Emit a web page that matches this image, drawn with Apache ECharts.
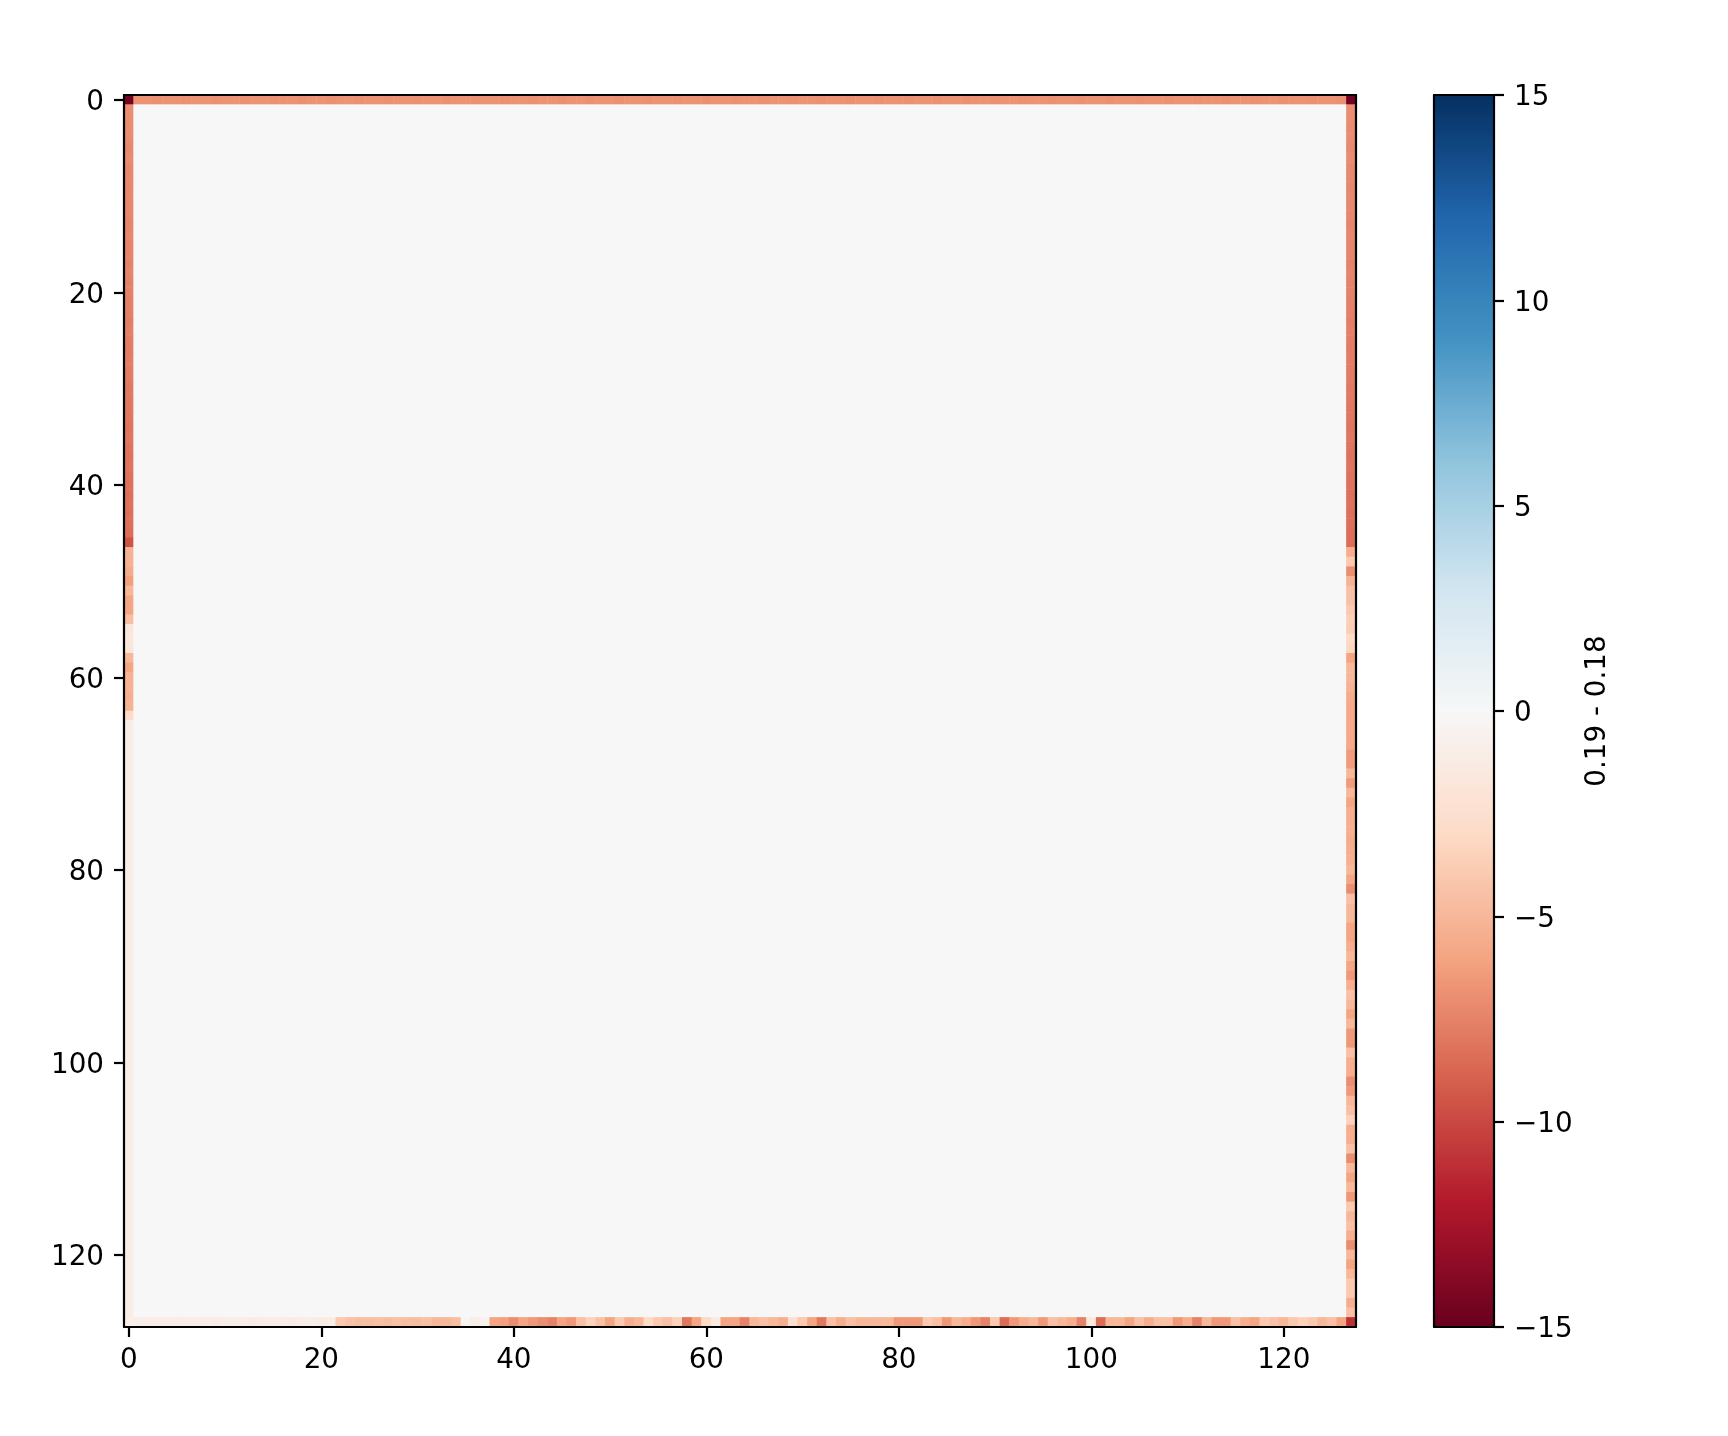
<!DOCTYPE html>
<html>
<head>
<meta charset="utf-8">
<script src="https://cdn.jsdelivr.net/npm/echarts@6/dist/echarts.min.js"></script>
<style>
html, body { margin: 0; padding: 0; background: #ffffff; }
#chart { width: 1728px; height: 1436px; }
</style>
</head>
<body>
<div id="chart"></div>
<script>
// ---------------- data ----------------
const gridSize = 128;
const xTickValues = [0, 20, 40, 60, 80, 100, 120];
const yTickValues = [0, 20, 40, 60, 80, 100, 120];
const colorbarTicks = [-15, -10, -5, 0, 5, 10, 15];
const colorbarLabel = '0.19 - 0.18';
const valueMin = -15;
const valueMax = 15;
const interiorValue = 0;

// row 0, columns 0..127
const topRow = [
  -14.5,
  -6.8, -6.8, -6.9, -6.8, -6.8, -6.9, -6.8, -6.8, -6.9, -6.8,
  -6.8, -6.9, -6.8, -6.8, -6.9, -6.8, -6.8, -6.9, -6.8, -6.8,
  -6.9, -6.8, -6.8, -6.9, -6.8, -6.8, -6.9, -6.8, -6.8, -6.9,
  -6.8, -6.8, -6.9, -6.8, -6.8, -6.9, -6.8, -6.8, -6.9, -6.8,
  -6.8, -6.9, -6.8, -6.8, -6.9, -6.8, -6.8, -6.9, -6.8, -6.8,
  -6.9, -6.8, -6.8, -6.9, -6.8, -6.8, -6.9, -6.8, -6.8, -6.9,
  -6.8, -6.8, -6.9, -6.8, -6.8, -6.9, -6.8, -6.8, -6.9, -6.8,
  -6.8, -6.9, -6.8, -6.8, -6.9, -6.8, -6.8, -6.9, -6.8, -6.8,
  -6.9, -6.8, -6.8, -6.9, -6.8, -6.8, -6.9, -6.8, -6.8, -6.9,
  -6.8, -6.8, -6.9, -6.8, -6.8, -6.9, -6.8, -6.8, -6.9, -6.8,
  -6.8, -6.9, -6.8, -6.8, -6.9, -6.8, -6.8, -6.9, -6.8, -6.8,
  -6.9, -6.8, -6.8, -6.9, -6.8, -6.8, -6.9, -6.8, -6.8, -6.9,
  -6.8, -6.8, -6.9, -6.8, -6.8, -6.9,
  -14.5
];

// row 127, columns 0..127
const bottomRow = [
  -0.9, -1.0, -1.0, -1.1, -1.0, -1.1, -1.1, -1.0, -1.1, -1.2,
  -1.1, -1.0, -1.1, -1.2, -1.1, -1.0, -1.1, -1.2, -1.1, -1.0,
  -1.2, -1.1,
  -4.0, -4.4, -4.6, -4.6, -4.5, -4.7, -4.5, -4.6, -4.7, -4.5,
  -5.0, -5.0, -4.6,
  -0.3, -1.0, -0.6,
  -6.0, -6.2, -7.0,
  -6.0, -6.5, -7.0, -7.5, -6.0, -6.5, -4.5, -3.5, -4.5, -6.0,
  -4.0, -5.5, -5.0, -3.0, -4.0, -4.5, -3.5, -8.0, -6.0, -3.0,
  -1.5, -6.0, -6.0, -7.5, -5.0, -4.5, -5.0, -5.5, -2.5, -4.0,
  -6.0, -8.0, -4.5, -5.5, -4.5, -5.0, -5.0, -5.0, -5.0, -6.5,
  -6.5, -6.5, -4.0,
  -4.5, -6.5, -5.0, -5.5, -6.5, -7.5, -4.0, -8.5, -6.5, -5.5,
  -5.0, -6.5, -4.5, -5.0, -5.5, -7.5, -1.5, -8.5, -5.0, -5.0,
  -6.0, -4.5, -5.5, -4.5, -4.5, -6.5, -5.5, -7.5, -5.0, -6.5,
  -6.5, -4.5, -5.5, -6.0, -4.0, -4.5, -5.0, -4.0, -3.5, -4.0,
  -5.0, -4.5, -6.0, -11.0
];

// column 0, rows 1..126
const leftCol = [
  -7.0, -7.0, -7.1, -7.1, -7.2, -7.1, -7.2, -7.2, -7.3, -7.2,
  -7.3, -7.3, -7.4, -7.3, -7.4, -7.4, -7.5, -7.4, -7.5, -7.5,
  -7.6, -7.6, -7.7, -7.6, -7.7, -7.8, -7.7, -7.8, -7.8, -7.9,
  -7.9, -8.0, -8.0, -8.1, -8.0, -8.1, -8.2, -8.1, -8.2, -8.2,
  -8.3, -8.2, -8.3, -8.3, -8.4,
  -9.6,
  -5.2, -5.2, -5.6, -6.2, -5.0, -6.0, -6.0, -4.6, -1.8, -1.6,
  -1.8, -5.0, -6.0, -5.3, -5.3, -5.4, -5.2, -2.8,
  -1.0, -1.0, -1.1, -1.0, -1.0, -1.1, -1.0, -1.0, -1.0, -1.1,
  -1.0, -1.0, -1.1, -1.0, -1.0, -1.0, -1.1, -1.0, -1.0, -1.1,
  -1.0, -1.0, -1.0, -1.1, -1.0, -1.0, -1.1, -1.0, -1.0, -1.0,
  -1.1, -1.0, -1.0, -1.1, -1.0, -1.0, -1.0, -1.1, -1.0, -1.0,
  -1.1, -1.0, -1.0, -1.0, -1.1, -1.0, -1.0, -1.1, -1.0, -1.0,
  -1.0, -1.1, -1.0, -1.0, -1.1, -1.0, -1.0, -1.0, -1.1, -1.0,
  -1.0, -1.1
];

// column 127, rows 1..126
const rightCol = [
  -7.0, -7.0, -7.1, -7.1, -7.2, -7.1, -7.2, -7.2, -7.3, -7.2,
  -7.3, -7.3, -7.4, -7.3, -7.4, -7.4, -7.5, -7.4, -7.5, -7.5,
  -7.6, -7.6, -7.7, -7.6, -7.7, -7.8, -7.7, -7.8, -7.8, -7.9,
  -7.9, -8.0, -8.0, -8.1, -8.0, -8.1, -8.2, -8.1, -8.2, -8.2,
  -8.3, -8.2, -8.3, -8.3, -8.4, -8.4,
  -5.5, -4.0, -7.0, -5.2, -4.5, -4.5, -4.0, -3.6, -3.8, -3.0,
  -3.2, -6.0, -5.0, -5.0, -5.2,
  -5.6, -5.8, -5.8, -5.8, -5.8, -5.8, -6.4, -6.4, -5.0, -6.4,
  -5.0, -6.0, -5.5, -5.5, -5.4, -5.6, -5.5, -5.4, -5.0, -6.0,
  -7.0, -4.5, -5.0, -5.0, -6.0, -6.0, -5.5, -5.0, -6.0, -6.5,
  -5.5, -4.5, -5.0, -6.0, -5.0, -6.5, -6.5, -4.5, -5.5, -5.5,
  -7.0, -6.5, -5.0, -4.5, -3.5, -5.5, -5.5, -4.5, -7.0, -5.0,
  -6.0, -5.0, -6.5, -4.0, -5.0, -4.5, -5.5, -7.0, -5.0, -6.0,
  -5.0, -4.0, -4.0, -5.5, -4.5
];

// RdBu colormap stops (low -> high)
const rdbuColors = ['#67001f', '#b2182b', '#d6604d', '#f4a582', '#fddbc7', '#f7f7f7',
                    '#d1e5f0', '#92c5de', '#4393c3', '#2166ac', '#053061'];

// ---------------- build the heatmap table ----------------
const categories = [];
for (let i = 0; i < gridSize; i++) categories.push(String(i));

function cellValue(r, c) {
  if (r === 0) return topRow[c];
  if (r === gridSize - 1) return bottomRow[c];
  if (c === 0) return leftCol[r - 1];
  if (c === gridSize - 1) return rightCol[r - 1];
  return interiorValue;
}
const heatData = [];
for (let r = 0; r < gridSize; r++) {
  for (let c = 0; c < gridSize; c++) {
    heatData.push([c, r, cellValue(r, c)]);
  }
}

// ---------------- chart ----------------
const FONT = 'DejaVu Sans';
const FS = 27.8;
const black = '#000000';
const lineW = 2.2;
const minus = v => (v < 0 ? '\u2212' + Math.abs(v) : String(v));
const xShow = i => xTickValues.indexOf(i) >= 0;
const yShow = i => yTickValues.indexOf(i) >= 0;
const richShift = { t: { color: black, fontSize: FS, fontFamily: FONT, padding: [6, 0, 0, 0] } };

const G0 = { left: 124, top: 95, width: 1232, height: 1232 };
const G1 = { left: 1434, top: 95, width: 60, height: 1232 };

const lineOnly = {
  axisLine: { show: true, onZero: false, lineStyle: { color: black, width: lineW } },
  axisTick: { show: false },
  axisLabel: { show: false },
  splitLine: { show: false }
};

const chart = echarts.init(document.getElementById('chart'), null, { renderer: 'canvas' });
chart.setOption({
  animation: false,
  backgroundColor: '#ffffff',
  grid: [
    Object.assign({ containLabel: false }, G0),
    Object.assign({ containLabel: false }, G1)
  ],
  xAxis: [
    {
      type: 'category', gridIndex: 0, data: categories, position: 'bottom', z: 10,
      axisLine: { show: true, onZero: false, lineStyle: { color: black, width: lineW } },
      axisTick: { show: true, alignWithLabel: true, interval: xShow, length: 10, lineStyle: { color: black, width: lineW } },
      axisLabel: { show: true, interval: xShow, color: black, fontSize: FS, fontFamily: FONT, margin: 20 },
      splitLine: { show: false }
    },
    Object.assign({ type: 'category', gridIndex: 0, data: categories, position: 'top', z: 10 }, lineOnly),
    Object.assign({ type: 'value', gridIndex: 1, min: 0, max: 1, position: 'bottom', z: 10 }, lineOnly),
    Object.assign({ type: 'value', gridIndex: 1, min: 0, max: 1, position: 'top', z: 10 }, lineOnly)
  ],
  yAxis: [
    {
      type: 'category', gridIndex: 0, data: categories, inverse: true, position: 'left', z: 10,
      axisLine: { show: true, onZero: false, lineStyle: { color: black, width: lineW } },
      axisTick: { show: true, alignWithLabel: true, interval: yShow, length: 10, lineStyle: { color: black, width: lineW } },
      axisLabel: { show: true, interval: yShow, color: black, fontSize: FS, fontFamily: FONT, margin: 20,
                   formatter: v => '{t|' + v + '}', rich: richShift },
      splitLine: { show: false }
    },
    Object.assign({ type: 'category', gridIndex: 0, data: categories, inverse: true, position: 'right', z: 10 }, lineOnly),
    {
      type: 'value', gridIndex: 1, min: valueMin, max: valueMax, interval: 5, position: 'right', z: 10,
      name: colorbarLabel, nameLocation: 'middle', nameRotate: 90, nameGap: 90,
      nameTextStyle: { color: black, fontSize: FS, fontFamily: FONT },
      axisLine: { show: true, onZero: false, lineStyle: { color: black, width: lineW } },
      axisTick: { show: true, inside: false, length: 10, lineStyle: { color: black, width: lineW } },
      axisLabel: { show: true, color: black, fontSize: FS, fontFamily: FONT, margin: 20,
                   formatter: v => (colorbarTicks.indexOf(v) >= 0 ? '{t|' + minus(v) + '}' : ''),
                   rich: richShift },
      splitLine: { show: false }
    },
    Object.assign({ type: 'value', gridIndex: 1, min: valueMin, max: valueMax, interval: 5, position: 'left', z: 10 }, lineOnly)
  ],
  visualMap: {
    type: 'continuous',
    min: valueMin, max: valueMax,
    seriesIndex: 0,
    calculable: false,
    hoverLink: false,
    realtime: false,
    orient: 'vertical',
    itemWidth: G1.width,
    itemHeight: G1.height,
    left: G1.left,
    top: G1.top,
    padding: 0,
    text: null,
    showLabel: false,
    inRange: { color: rdbuColors }
  },
  series: [{
    type: 'heatmap',
    xAxisIndex: 0,
    yAxisIndex: 0,
    data: heatData,
    progressive: 0,
    itemStyle: { borderWidth: 0 },
    emphasis: { disabled: true },
    silent: true
  }]
});
</script>
</body>
</html>
